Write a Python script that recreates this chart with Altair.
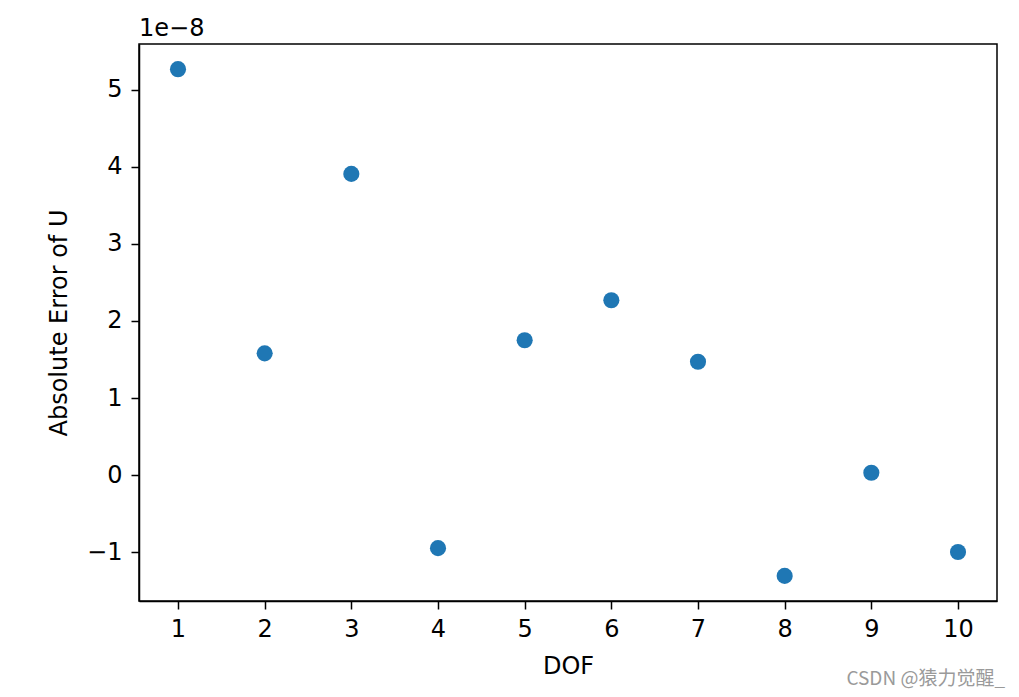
import altair as alt
import pandas as pd

dof = [1, 2, 3, 4, 5, 6, 7, 8, 9, 10]
abs_err = [5.27, 1.58, 3.91, -0.95, 1.75, 2.27, 1.47, -1.31, 0.03, -1.00]  # x 1e-8

df = pd.DataFrame({"DOF": dof, "err": abs_err})

FONT = "DejaVu Sans"
FS = 24
W, H = 858, 557

points = alt.Chart(df).mark_circle(size=260, color="#1f77b4", opacity=1).encode(
    x=alt.X("DOF:Q", scale=alt.Scale(domain=[0.55, 10.45], nice=False, zero=False),
            axis=alt.Axis(values=dof, title="DOF", format="d", grid=False)),
    y=alt.Y("err:Q", scale=alt.Scale(domain=[-1.636, 5.597], nice=False, zero=False),
            axis=alt.Axis(values=[-1, 0, 1, 2, 3, 4, 5], title="Absolute Error of U",
                          format="d", grid=False)),
)

wm = alt.Chart(pd.DataFrame({"t": ["CSDN @猿力觉醒_"]})).mark_text(
    align="right", baseline="middle", fontSize=19, color="#9a9a9a", font="Noto Sans CJK SC"
).encode(x=alt.value(W + 8), y=alt.value(H + 78), text="t:N")

chart = alt.layer(points, wm).properties(
    width=W, height=H,
    title=alt.TitleParams("1e−8", anchor="start", fontSize=FS, font=FONT,
                          fontWeight="normal", offset=3, color="black", frame="group"),
    autosize=alt.AutoSizeParams(type="none"),
    padding={"left": 131, "top": 36, "right": 14, "bottom": 88},
).configure_view(stroke="black", strokeWidth=1.5).configure_axis(
    labelFont=FONT, titleFont=FONT, labelFontSize=FS, titleFontSize=FS,
    titleFontWeight="normal", labelColor="black", titleColor="black",
    domainColor="black", tickColor="black", tickSize=8, domainWidth=1.5, tickWidth=1.5,
).configure_axisX(labelPadding=8, titlePadding=13).configure_axisY(labelPadding=9, titlePadding=15)

chart.save("out.html", embed_options={"renderer": "svg", "actions": False})
